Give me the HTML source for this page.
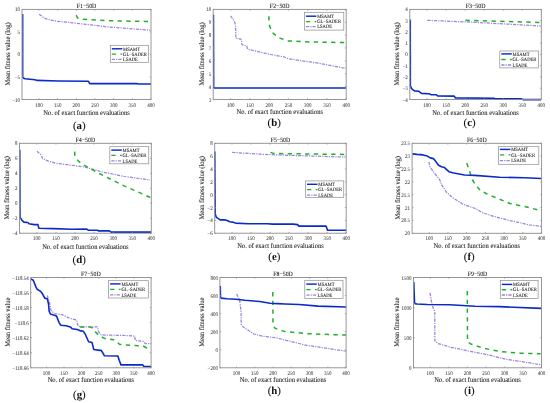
<!DOCTYPE html><html><head><meta charset="utf-8"><style>html,body{margin:0;padding:0;background:#fff;width:550px;height:403px;overflow:hidden}svg{display:block}</style></head><body>
<svg width="550" height="403" viewBox="0 0 550 403" font-family='"Liberation Serif", serif' fill="#222"><style>text{stroke:#222;stroke-width:0.08px;text-rendering:geometricPrecision}</style><defs><filter id="bl" x="-5%" y="-5%" width="110%" height="110%"><feGaussianBlur stdDeviation="0.3"/></filter></defs><g filter="url(#bl)"><rect width="550" height="403" fill="#fff"/><polyline points="39.10,14.20 43.70,17.60 45.40,18.60 50.30,20.00 56.80,21.30 67.70,22.20 80.80,23.80 93.90,25.20 105.40,26.70 125.50,28.30 150.30,30.20" fill="none" stroke="#9a82de" stroke-width="1.25" stroke-linejoin="round" stroke-dasharray="3.2 1.1 1.2 1.1"/>
<polyline points="76.20,15.10 77.50,18.00 81.90,19.20 91.20,19.80 108.90,20.80 145.60,21.40 151.00,21.50" fill="none" stroke="#22b02c" stroke-width="1.5" stroke-linejoin="round" stroke-dasharray="4.3 4.4"/>
<polyline points="22.80,14.00 22.80,77.80" fill="none" stroke="#0a2cc8" stroke-width="1.3" stroke-linejoin="round"/>
<polyline points="22.80,77.80 25.00,78.70 35.00,79.70 37.00,80.40 58.00,81.00 88.50,81.30 89.80,83.60 137.30,83.60 138.00,84.00 151.00,84.00" fill="none" stroke="#0a2cc8" stroke-width="1.6" stroke-linejoin="round"/>
<rect x="22" y="9.4" width="129" height="90.1" fill="none" stroke="#8c8c8c" stroke-width="0.9"/>
<line x1="38.99" y1="99.5" x2="38.99" y2="98.2" stroke="#8c8c8c" stroke-width="0.7"/>
<line x1="38.99" y1="9.4" x2="38.99" y2="10.700000000000001" stroke="#8c8c8c" stroke-width="0.7"/>
<text transform="translate(38.99,106.60) scale(1,1.1)" text-anchor="middle" font-size="5" fill="#3c3c3c" style="stroke-width:0.04px;stroke:#3c3c3c">100</text>
<line x1="57.66" y1="99.5" x2="57.66" y2="98.2" stroke="#8c8c8c" stroke-width="0.7"/>
<line x1="57.66" y1="9.4" x2="57.66" y2="10.700000000000001" stroke="#8c8c8c" stroke-width="0.7"/>
<text transform="translate(57.66,106.60) scale(1,1.1)" text-anchor="middle" font-size="5" fill="#3c3c3c" style="stroke-width:0.04px;stroke:#3c3c3c">150</text>
<line x1="76.33" y1="99.5" x2="76.33" y2="98.2" stroke="#8c8c8c" stroke-width="0.7"/>
<line x1="76.33" y1="9.4" x2="76.33" y2="10.700000000000001" stroke="#8c8c8c" stroke-width="0.7"/>
<text transform="translate(76.33,106.60) scale(1,1.1)" text-anchor="middle" font-size="5" fill="#3c3c3c" style="stroke-width:0.04px;stroke:#3c3c3c">200</text>
<line x1="94.99" y1="99.5" x2="94.99" y2="98.2" stroke="#8c8c8c" stroke-width="0.7"/>
<line x1="94.99" y1="9.4" x2="94.99" y2="10.700000000000001" stroke="#8c8c8c" stroke-width="0.7"/>
<text transform="translate(94.99,106.60) scale(1,1.1)" text-anchor="middle" font-size="5" fill="#3c3c3c" style="stroke-width:0.04px;stroke:#3c3c3c">250</text>
<line x1="113.66" y1="99.5" x2="113.66" y2="98.2" stroke="#8c8c8c" stroke-width="0.7"/>
<line x1="113.66" y1="9.4" x2="113.66" y2="10.700000000000001" stroke="#8c8c8c" stroke-width="0.7"/>
<text transform="translate(113.66,106.60) scale(1,1.1)" text-anchor="middle" font-size="5" fill="#3c3c3c" style="stroke-width:0.04px;stroke:#3c3c3c">300</text>
<line x1="132.33" y1="99.5" x2="132.33" y2="98.2" stroke="#8c8c8c" stroke-width="0.7"/>
<line x1="132.33" y1="9.4" x2="132.33" y2="10.700000000000001" stroke="#8c8c8c" stroke-width="0.7"/>
<text transform="translate(132.33,106.60) scale(1,1.1)" text-anchor="middle" font-size="5" fill="#3c3c3c" style="stroke-width:0.04px;stroke:#3c3c3c">350</text>
<line x1="151.00" y1="99.5" x2="151.00" y2="98.2" stroke="#8c8c8c" stroke-width="0.7"/>
<line x1="151.00" y1="9.4" x2="151.00" y2="10.700000000000001" stroke="#8c8c8c" stroke-width="0.7"/>
<text transform="translate(151.00,106.60) scale(1,1.1)" text-anchor="middle" font-size="5" fill="#3c3c3c" style="stroke-width:0.04px;stroke:#3c3c3c">400</text>
<line x1="22" y1="9.40" x2="23.3" y2="9.40" stroke="#8c8c8c" stroke-width="0.7"/>
<line x1="151" y1="9.40" x2="149.7" y2="9.40" stroke="#8c8c8c" stroke-width="0.7"/>
<text transform="translate(20.00,11.40) scale(1,1.1)" text-anchor="end" font-size="5" fill="#3c3c3c" style="stroke-width:0.04px;stroke:#3c3c3c">10</text>
<line x1="22" y1="31.93" x2="23.3" y2="31.93" stroke="#8c8c8c" stroke-width="0.7"/>
<line x1="151" y1="31.93" x2="149.7" y2="31.93" stroke="#8c8c8c" stroke-width="0.7"/>
<text transform="translate(20.00,33.93) scale(1,1.1)" text-anchor="end" font-size="5" fill="#3c3c3c" style="stroke-width:0.04px;stroke:#3c3c3c">5</text>
<line x1="22" y1="54.45" x2="23.3" y2="54.45" stroke="#8c8c8c" stroke-width="0.7"/>
<line x1="151" y1="54.45" x2="149.7" y2="54.45" stroke="#8c8c8c" stroke-width="0.7"/>
<text transform="translate(20.00,56.45) scale(1,1.1)" text-anchor="end" font-size="5" fill="#3c3c3c" style="stroke-width:0.04px;stroke:#3c3c3c">0</text>
<line x1="22" y1="76.97" x2="23.3" y2="76.97" stroke="#8c8c8c" stroke-width="0.7"/>
<line x1="151" y1="76.97" x2="149.7" y2="76.97" stroke="#8c8c8c" stroke-width="0.7"/>
<text transform="translate(20.00,78.97) scale(1,1.1)" text-anchor="end" font-size="5" fill="#3c3c3c" style="stroke-width:0.04px;stroke:#3c3c3c">−5</text>
<line x1="22" y1="99.50" x2="23.3" y2="99.50" stroke="#8c8c8c" stroke-width="0.7"/>
<line x1="151" y1="99.50" x2="149.7" y2="99.50" stroke="#8c8c8c" stroke-width="0.7"/>
<text transform="translate(20.00,101.50) scale(1,1.1)" text-anchor="end" font-size="5" fill="#3c3c3c" style="stroke-width:0.04px;stroke:#3c3c3c">−10</text>
<text transform="translate(86.50,8.20) scale(1,1.1)" text-anchor="middle" font-size="5.9">F1−50D</text>
<text transform="translate(86.50,114.60) scale(1,1.1)" text-anchor="middle" font-size="6.5">No. of exact function evaluations</text>
<text transform="translate(9.70,53.95) rotate(-90) scale(1,1.1)" text-anchor="middle" font-size="6.5">Mean fitness value (log)</text>
<text x="79.3" y="129.4" text-anchor="middle" font-size="10.8" fill="#111" style="stroke-width:0.1px;stroke:#111">(<tspan font-weight="bold" style="stroke-width:0">a</tspan>)</text>
<rect x="110.3" y="45.3" width="38.3" height="17.0" fill="#fff" stroke="#8c8c8c" stroke-width="0.7"/>
<polyline points="111.80,48.80 122.30,48.80" fill="none" stroke="#0a2cc8" stroke-width="1.45" stroke-linejoin="round"/>
<text transform="translate(123.10,50.50) scale(1,1.1)" text-anchor="start" font-size="4.6">MSAMT</text>
<polyline points="111.80,54.10 122.30,54.10" fill="none" stroke="#22b02c" stroke-width="1.35" stroke-linejoin="round" stroke-dasharray="4.3 4.4"/>
<text transform="translate(123.10,55.80) scale(1,1.1)" text-anchor="start" font-size="4.6">GL−SADER</text>
<polyline points="111.80,59.40 122.30,59.40" fill="none" stroke="#9a82de" stroke-width="1.3" stroke-linejoin="round" stroke-dasharray="3.2 1.1 1.2 1.1"/>
<text transform="translate(123.10,61.10) scale(1,1.1)" text-anchor="start" font-size="4.6">LSADE</text>
<polyline points="230.60,15.90 234.50,21.40 235.50,25.20 235.90,38.20 241.40,39.30 241.90,44.70 246.80,46.10 247.50,49.10 253.40,50.50 261.00,52.40 270.80,54.50 284.50,57.00 288.20,58.70 319.10,63.30 343.80,68.00 346.00,68.30" fill="none" stroke="#9a82de" stroke-width="1.25" stroke-linejoin="round" stroke-dasharray="3.2 1.1 1.2 1.1"/>
<polyline points="268.90,16.20 268.90,23.90 272.00,32.40 278.90,37.80 288.20,40.90 311.40,42.00 342.30,42.50 346.00,42.50" fill="none" stroke="#22b02c" stroke-width="1.5" stroke-linejoin="round" stroke-dasharray="4.3 4.4"/>
<polyline points="213.60,14.80 213.80,88.00" fill="none" stroke="#0a2cc8" stroke-width="1.3" stroke-linejoin="round"/>
<polyline points="213.80,88.00 346.00,88.00" fill="none" stroke="#0a2cc8" stroke-width="1.6" stroke-linejoin="round"/>
<rect x="213.2" y="9.4" width="133.0" height="90.1" fill="none" stroke="#8c8c8c" stroke-width="0.9"/>
<line x1="230.72" y1="99.5" x2="230.72" y2="98.2" stroke="#8c8c8c" stroke-width="0.7"/>
<line x1="230.72" y1="9.4" x2="230.72" y2="10.700000000000001" stroke="#8c8c8c" stroke-width="0.7"/>
<text transform="translate(230.72,106.60) scale(1,1.1)" text-anchor="middle" font-size="5" fill="#3c3c3c" style="stroke-width:0.04px;stroke:#3c3c3c">100</text>
<line x1="249.96" y1="99.5" x2="249.96" y2="98.2" stroke="#8c8c8c" stroke-width="0.7"/>
<line x1="249.96" y1="9.4" x2="249.96" y2="10.700000000000001" stroke="#8c8c8c" stroke-width="0.7"/>
<text transform="translate(249.96,106.60) scale(1,1.1)" text-anchor="middle" font-size="5" fill="#3c3c3c" style="stroke-width:0.04px;stroke:#3c3c3c">150</text>
<line x1="269.21" y1="99.5" x2="269.21" y2="98.2" stroke="#8c8c8c" stroke-width="0.7"/>
<line x1="269.21" y1="9.4" x2="269.21" y2="10.700000000000001" stroke="#8c8c8c" stroke-width="0.7"/>
<text transform="translate(269.21,106.60) scale(1,1.1)" text-anchor="middle" font-size="5" fill="#3c3c3c" style="stroke-width:0.04px;stroke:#3c3c3c">200</text>
<line x1="288.46" y1="99.5" x2="288.46" y2="98.2" stroke="#8c8c8c" stroke-width="0.7"/>
<line x1="288.46" y1="9.4" x2="288.46" y2="10.700000000000001" stroke="#8c8c8c" stroke-width="0.7"/>
<text transform="translate(288.46,106.60) scale(1,1.1)" text-anchor="middle" font-size="5" fill="#3c3c3c" style="stroke-width:0.04px;stroke:#3c3c3c">250</text>
<line x1="307.71" y1="99.5" x2="307.71" y2="98.2" stroke="#8c8c8c" stroke-width="0.7"/>
<line x1="307.71" y1="9.4" x2="307.71" y2="10.700000000000001" stroke="#8c8c8c" stroke-width="0.7"/>
<text transform="translate(307.71,106.60) scale(1,1.1)" text-anchor="middle" font-size="5" fill="#3c3c3c" style="stroke-width:0.04px;stroke:#3c3c3c">300</text>
<line x1="326.95" y1="99.5" x2="326.95" y2="98.2" stroke="#8c8c8c" stroke-width="0.7"/>
<line x1="326.95" y1="9.4" x2="326.95" y2="10.700000000000001" stroke="#8c8c8c" stroke-width="0.7"/>
<text transform="translate(326.95,106.60) scale(1,1.1)" text-anchor="middle" font-size="5" fill="#3c3c3c" style="stroke-width:0.04px;stroke:#3c3c3c">350</text>
<line x1="346.20" y1="99.5" x2="346.20" y2="98.2" stroke="#8c8c8c" stroke-width="0.7"/>
<line x1="346.20" y1="9.4" x2="346.20" y2="10.700000000000001" stroke="#8c8c8c" stroke-width="0.7"/>
<text transform="translate(346.20,106.60) scale(1,1.1)" text-anchor="middle" font-size="5" fill="#3c3c3c" style="stroke-width:0.04px;stroke:#3c3c3c">400</text>
<line x1="213.2" y1="99.50" x2="214.5" y2="99.50" stroke="#8c8c8c" stroke-width="0.7"/>
<line x1="346.2" y1="99.50" x2="344.9" y2="99.50" stroke="#8c8c8c" stroke-width="0.7"/>
<text transform="translate(211.20,101.50) scale(1,1.1)" text-anchor="end" font-size="5" fill="#3c3c3c" style="stroke-width:0.04px;stroke:#3c3c3c">3</text>
<line x1="213.2" y1="86.63" x2="214.5" y2="86.63" stroke="#8c8c8c" stroke-width="0.7"/>
<line x1="346.2" y1="86.63" x2="344.9" y2="86.63" stroke="#8c8c8c" stroke-width="0.7"/>
<text transform="translate(211.20,88.63) scale(1,1.1)" text-anchor="end" font-size="5" fill="#3c3c3c" style="stroke-width:0.04px;stroke:#3c3c3c">4</text>
<line x1="213.2" y1="73.76" x2="214.5" y2="73.76" stroke="#8c8c8c" stroke-width="0.7"/>
<line x1="346.2" y1="73.76" x2="344.9" y2="73.76" stroke="#8c8c8c" stroke-width="0.7"/>
<text transform="translate(211.20,75.76) scale(1,1.1)" text-anchor="end" font-size="5" fill="#3c3c3c" style="stroke-width:0.04px;stroke:#3c3c3c">5</text>
<line x1="213.2" y1="60.89" x2="214.5" y2="60.89" stroke="#8c8c8c" stroke-width="0.7"/>
<line x1="346.2" y1="60.89" x2="344.9" y2="60.89" stroke="#8c8c8c" stroke-width="0.7"/>
<text transform="translate(211.20,62.89) scale(1,1.1)" text-anchor="end" font-size="5" fill="#3c3c3c" style="stroke-width:0.04px;stroke:#3c3c3c">6</text>
<line x1="213.2" y1="48.01" x2="214.5" y2="48.01" stroke="#8c8c8c" stroke-width="0.7"/>
<line x1="346.2" y1="48.01" x2="344.9" y2="48.01" stroke="#8c8c8c" stroke-width="0.7"/>
<text transform="translate(211.20,50.01) scale(1,1.1)" text-anchor="end" font-size="5" fill="#3c3c3c" style="stroke-width:0.04px;stroke:#3c3c3c">7</text>
<line x1="213.2" y1="35.14" x2="214.5" y2="35.14" stroke="#8c8c8c" stroke-width="0.7"/>
<line x1="346.2" y1="35.14" x2="344.9" y2="35.14" stroke="#8c8c8c" stroke-width="0.7"/>
<text transform="translate(211.20,37.14) scale(1,1.1)" text-anchor="end" font-size="5" fill="#3c3c3c" style="stroke-width:0.04px;stroke:#3c3c3c">8</text>
<line x1="213.2" y1="22.27" x2="214.5" y2="22.27" stroke="#8c8c8c" stroke-width="0.7"/>
<line x1="346.2" y1="22.27" x2="344.9" y2="22.27" stroke="#8c8c8c" stroke-width="0.7"/>
<text transform="translate(211.20,24.27) scale(1,1.1)" text-anchor="end" font-size="5" fill="#3c3c3c" style="stroke-width:0.04px;stroke:#3c3c3c">9</text>
<line x1="213.2" y1="9.40" x2="214.5" y2="9.40" stroke="#8c8c8c" stroke-width="0.7"/>
<line x1="346.2" y1="9.40" x2="344.9" y2="9.40" stroke="#8c8c8c" stroke-width="0.7"/>
<text transform="translate(211.20,11.40) scale(1,1.1)" text-anchor="end" font-size="5" fill="#3c3c3c" style="stroke-width:0.04px;stroke:#3c3c3c">10</text>
<text transform="translate(279.70,8.20) scale(1,1.1)" text-anchor="middle" font-size="5.9">F2−50D</text>
<text transform="translate(279.70,114.20) scale(1,1.1)" text-anchor="middle" font-size="6.5">No. of exact function evaluations</text>
<text transform="translate(203.90,53.95) rotate(-90) scale(1,1.1)" text-anchor="middle" font-size="6.5">Mean fitness value (log)</text>
<text x="274.2" y="126.1" text-anchor="middle" font-size="10.8" fill="#111" style="stroke-width:0.1px;stroke:#111">(<tspan font-weight="bold" style="stroke-width:0">b</tspan>)</text>
<rect x="304.4" y="12.3" width="39.400000000000034" height="17.8" fill="#fff" stroke="#8c8c8c" stroke-width="0.7"/>
<polyline points="305.90,16.20 316.40,16.20" fill="none" stroke="#0a2cc8" stroke-width="1.45" stroke-linejoin="round"/>
<text transform="translate(317.20,17.90) scale(1,1.1)" text-anchor="start" font-size="4.6">MSAMT</text>
<polyline points="305.90,21.60 316.40,21.60" fill="none" stroke="#22b02c" stroke-width="1.35" stroke-linejoin="round" stroke-dasharray="4.3 4.4"/>
<text transform="translate(317.20,23.30) scale(1,1.1)" text-anchor="start" font-size="4.6">GL−SADER</text>
<polyline points="305.90,26.70 316.40,26.70" fill="none" stroke="#9a82de" stroke-width="1.3" stroke-linejoin="round" stroke-dasharray="3.2 1.1 1.2 1.1"/>
<text transform="translate(317.20,28.40) scale(1,1.1)" text-anchor="start" font-size="4.6">LSADE</text>
<polyline points="427.30,20.30 475.00,22.30 541.00,26.00" fill="none" stroke="#9a82de" stroke-width="1.25" stroke-linejoin="round" stroke-dasharray="3.2 1.1 1.2 1.1"/>
<polyline points="465.50,20.30 474.80,20.60 537.70,22.40 541.00,22.50" fill="none" stroke="#22b02c" stroke-width="1.5" stroke-linejoin="round" stroke-dasharray="4.3 4.4"/>
<polyline points="410.40,19.60 410.50,86.20" fill="none" stroke="#0a2cc8" stroke-width="1.3" stroke-linejoin="round"/>
<polyline points="410.50,86.20 411.80,88.90 414.50,90.90 418.60,91.20 421.40,93.40 428.90,93.70 430.90,94.60 436.40,94.70 437.70,96.00 454.10,96.10 455.50,97.90 494.00,98.20 495.50,98.90 521.60,98.90 523.10,99.60 541.00,99.60" fill="none" stroke="#0a2cc8" stroke-width="1.6" stroke-linejoin="round"/>
<rect x="409.8" y="9.4" width="131.49999999999994" height="90.1" fill="none" stroke="#8c8c8c" stroke-width="0.9"/>
<line x1="427.12" y1="99.5" x2="427.12" y2="98.2" stroke="#8c8c8c" stroke-width="0.7"/>
<line x1="427.12" y1="9.4" x2="427.12" y2="10.700000000000001" stroke="#8c8c8c" stroke-width="0.7"/>
<text transform="translate(427.12,106.60) scale(1,1.1)" text-anchor="middle" font-size="5" fill="#3c3c3c" style="stroke-width:0.04px;stroke:#3c3c3c">100</text>
<line x1="446.15" y1="99.5" x2="446.15" y2="98.2" stroke="#8c8c8c" stroke-width="0.7"/>
<line x1="446.15" y1="9.4" x2="446.15" y2="10.700000000000001" stroke="#8c8c8c" stroke-width="0.7"/>
<text transform="translate(446.15,106.60) scale(1,1.1)" text-anchor="middle" font-size="5" fill="#3c3c3c" style="stroke-width:0.04px;stroke:#3c3c3c">150</text>
<line x1="465.18" y1="99.5" x2="465.18" y2="98.2" stroke="#8c8c8c" stroke-width="0.7"/>
<line x1="465.18" y1="9.4" x2="465.18" y2="10.700000000000001" stroke="#8c8c8c" stroke-width="0.7"/>
<text transform="translate(465.18,106.60) scale(1,1.1)" text-anchor="middle" font-size="5" fill="#3c3c3c" style="stroke-width:0.04px;stroke:#3c3c3c">200</text>
<line x1="484.21" y1="99.5" x2="484.21" y2="98.2" stroke="#8c8c8c" stroke-width="0.7"/>
<line x1="484.21" y1="9.4" x2="484.21" y2="10.700000000000001" stroke="#8c8c8c" stroke-width="0.7"/>
<text transform="translate(484.21,106.60) scale(1,1.1)" text-anchor="middle" font-size="5" fill="#3c3c3c" style="stroke-width:0.04px;stroke:#3c3c3c">250</text>
<line x1="503.24" y1="99.5" x2="503.24" y2="98.2" stroke="#8c8c8c" stroke-width="0.7"/>
<line x1="503.24" y1="9.4" x2="503.24" y2="10.700000000000001" stroke="#8c8c8c" stroke-width="0.7"/>
<text transform="translate(503.24,106.60) scale(1,1.1)" text-anchor="middle" font-size="5" fill="#3c3c3c" style="stroke-width:0.04px;stroke:#3c3c3c">300</text>
<line x1="522.27" y1="99.5" x2="522.27" y2="98.2" stroke="#8c8c8c" stroke-width="0.7"/>
<line x1="522.27" y1="9.4" x2="522.27" y2="10.700000000000001" stroke="#8c8c8c" stroke-width="0.7"/>
<text transform="translate(522.27,106.60) scale(1,1.1)" text-anchor="middle" font-size="5" fill="#3c3c3c" style="stroke-width:0.04px;stroke:#3c3c3c">350</text>
<line x1="541.30" y1="99.5" x2="541.30" y2="98.2" stroke="#8c8c8c" stroke-width="0.7"/>
<line x1="541.30" y1="9.4" x2="541.30" y2="10.700000000000001" stroke="#8c8c8c" stroke-width="0.7"/>
<text transform="translate(541.30,106.60) scale(1,1.1)" text-anchor="middle" font-size="5" fill="#3c3c3c" style="stroke-width:0.04px;stroke:#3c3c3c">400</text>
<line x1="409.8" y1="99.50" x2="411.1" y2="99.50" stroke="#8c8c8c" stroke-width="0.7"/>
<line x1="541.3" y1="99.50" x2="540.0" y2="99.50" stroke="#8c8c8c" stroke-width="0.7"/>
<text transform="translate(407.80,101.50) scale(1,1.1)" text-anchor="end" font-size="5" fill="#3c3c3c" style="stroke-width:0.04px;stroke:#3c3c3c">−4</text>
<line x1="409.8" y1="88.24" x2="411.1" y2="88.24" stroke="#8c8c8c" stroke-width="0.7"/>
<line x1="541.3" y1="88.24" x2="540.0" y2="88.24" stroke="#8c8c8c" stroke-width="0.7"/>
<text transform="translate(407.80,90.24) scale(1,1.1)" text-anchor="end" font-size="5" fill="#3c3c3c" style="stroke-width:0.04px;stroke:#3c3c3c">−3</text>
<line x1="409.8" y1="76.97" x2="411.1" y2="76.97" stroke="#8c8c8c" stroke-width="0.7"/>
<line x1="541.3" y1="76.97" x2="540.0" y2="76.97" stroke="#8c8c8c" stroke-width="0.7"/>
<text transform="translate(407.80,78.97) scale(1,1.1)" text-anchor="end" font-size="5" fill="#3c3c3c" style="stroke-width:0.04px;stroke:#3c3c3c">−2</text>
<line x1="409.8" y1="65.71" x2="411.1" y2="65.71" stroke="#8c8c8c" stroke-width="0.7"/>
<line x1="541.3" y1="65.71" x2="540.0" y2="65.71" stroke="#8c8c8c" stroke-width="0.7"/>
<text transform="translate(407.80,67.71) scale(1,1.1)" text-anchor="end" font-size="5" fill="#3c3c3c" style="stroke-width:0.04px;stroke:#3c3c3c">−1</text>
<line x1="409.8" y1="54.45" x2="411.1" y2="54.45" stroke="#8c8c8c" stroke-width="0.7"/>
<line x1="541.3" y1="54.45" x2="540.0" y2="54.45" stroke="#8c8c8c" stroke-width="0.7"/>
<text transform="translate(407.80,56.45) scale(1,1.1)" text-anchor="end" font-size="5" fill="#3c3c3c" style="stroke-width:0.04px;stroke:#3c3c3c">0</text>
<line x1="409.8" y1="43.19" x2="411.1" y2="43.19" stroke="#8c8c8c" stroke-width="0.7"/>
<line x1="541.3" y1="43.19" x2="540.0" y2="43.19" stroke="#8c8c8c" stroke-width="0.7"/>
<text transform="translate(407.80,45.19) scale(1,1.1)" text-anchor="end" font-size="5" fill="#3c3c3c" style="stroke-width:0.04px;stroke:#3c3c3c">1</text>
<line x1="409.8" y1="31.93" x2="411.1" y2="31.93" stroke="#8c8c8c" stroke-width="0.7"/>
<line x1="541.3" y1="31.93" x2="540.0" y2="31.93" stroke="#8c8c8c" stroke-width="0.7"/>
<text transform="translate(407.80,33.93) scale(1,1.1)" text-anchor="end" font-size="5" fill="#3c3c3c" style="stroke-width:0.04px;stroke:#3c3c3c">2</text>
<line x1="409.8" y1="20.66" x2="411.1" y2="20.66" stroke="#8c8c8c" stroke-width="0.7"/>
<line x1="541.3" y1="20.66" x2="540.0" y2="20.66" stroke="#8c8c8c" stroke-width="0.7"/>
<text transform="translate(407.80,22.66) scale(1,1.1)" text-anchor="end" font-size="5" fill="#3c3c3c" style="stroke-width:0.04px;stroke:#3c3c3c">3</text>
<line x1="409.8" y1="9.40" x2="411.1" y2="9.40" stroke="#8c8c8c" stroke-width="0.7"/>
<line x1="541.3" y1="9.40" x2="540.0" y2="9.40" stroke="#8c8c8c" stroke-width="0.7"/>
<text transform="translate(407.80,11.40) scale(1,1.1)" text-anchor="end" font-size="5" fill="#3c3c3c" style="stroke-width:0.04px;stroke:#3c3c3c">4</text>
<text transform="translate(475.55,8.20) scale(1,1.1)" text-anchor="middle" font-size="5.9">F3−50D</text>
<text transform="translate(475.55,114.70) scale(1,1.1)" text-anchor="middle" font-size="6.5">No. of exact function evaluations</text>
<text transform="translate(399.40,53.95) rotate(-90) scale(1,1.1)" text-anchor="middle" font-size="6.5">Mean fitness value (log)</text>
<text x="469.6" y="125.5" text-anchor="middle" font-size="10.8" fill="#111" style="stroke-width:0.1px;stroke:#111">(<tspan font-weight="bold" style="stroke-width:0">c</tspan>)</text>
<rect x="499.8" y="51" width="38.69999999999999" height="16.900000000000006" fill="#fff" stroke="#8c8c8c" stroke-width="0.7"/>
<polyline points="501.30,53.90 511.80,53.90" fill="none" stroke="#0a2cc8" stroke-width="1.45" stroke-linejoin="round"/>
<text transform="translate(512.60,55.60) scale(1,1.1)" text-anchor="start" font-size="4.6">MSAMT</text>
<polyline points="501.30,59.50 511.80,59.50" fill="none" stroke="#22b02c" stroke-width="1.35" stroke-linejoin="round" stroke-dasharray="4.3 4.4"/>
<text transform="translate(512.60,61.20) scale(1,1.1)" text-anchor="start" font-size="4.6">GL−SADER</text>
<polyline points="501.30,65.00 511.80,65.00" fill="none" stroke="#9a82de" stroke-width="1.3" stroke-linejoin="round" stroke-dasharray="3.2 1.1 1.2 1.1"/>
<text transform="translate(512.60,66.70) scale(1,1.1)" text-anchor="start" font-size="4.6">LSADE</text>
<polyline points="37.00,151.20 41.10,154.90 42.60,158.60 47.80,160.90 55.20,163.10 67.10,164.60 85.00,167.10 102.30,172.00 124.60,176.50 150.00,179.90" fill="none" stroke="#9a82de" stroke-width="1.25" stroke-linejoin="round" stroke-dasharray="3.2 1.1 1.2 1.1"/>
<polyline points="74.60,151.60 74.90,155.60 76.80,159.40 81.50,163.80 99.30,173.50 124.60,186.10 150.00,197.30 151.00,197.60" fill="none" stroke="#22b02c" stroke-width="1.5" stroke-linejoin="round" stroke-dasharray="4.3 4.4"/>
<polyline points="19.90,149.70 20.10,217.40" fill="none" stroke="#0a2cc8" stroke-width="1.3" stroke-linejoin="round"/>
<polyline points="20.10,217.40 22.00,220.30 23.90,222.10 27.70,222.50 29.00,223.70 34.10,224.60 37.90,224.60 38.90,228.20 53.20,228.60 72.30,229.20 86.80,229.10 88.20,230.20 97.70,230.20 98.40,230.90 109.30,230.90 111.10,232.10 151.00,232.10" fill="none" stroke="#0a2cc8" stroke-width="1.6" stroke-linejoin="round"/>
<rect x="19.5" y="143.3" width="131.8" height="89.89999999999998" fill="none" stroke="#8c8c8c" stroke-width="0.9"/>
<line x1="36.86" y1="233.2" x2="36.86" y2="231.89999999999998" stroke="#8c8c8c" stroke-width="0.7"/>
<line x1="36.86" y1="143.3" x2="36.86" y2="144.60000000000002" stroke="#8c8c8c" stroke-width="0.7"/>
<text transform="translate(36.86,240.30) scale(1,1.1)" text-anchor="middle" font-size="5" fill="#3c3c3c" style="stroke-width:0.04px;stroke:#3c3c3c">100</text>
<line x1="55.93" y1="233.2" x2="55.93" y2="231.89999999999998" stroke="#8c8c8c" stroke-width="0.7"/>
<line x1="55.93" y1="143.3" x2="55.93" y2="144.60000000000002" stroke="#8c8c8c" stroke-width="0.7"/>
<text transform="translate(55.93,240.30) scale(1,1.1)" text-anchor="middle" font-size="5" fill="#3c3c3c" style="stroke-width:0.04px;stroke:#3c3c3c">150</text>
<line x1="75.00" y1="233.2" x2="75.00" y2="231.89999999999998" stroke="#8c8c8c" stroke-width="0.7"/>
<line x1="75.00" y1="143.3" x2="75.00" y2="144.60000000000002" stroke="#8c8c8c" stroke-width="0.7"/>
<text transform="translate(75.00,240.30) scale(1,1.1)" text-anchor="middle" font-size="5" fill="#3c3c3c" style="stroke-width:0.04px;stroke:#3c3c3c">200</text>
<line x1="94.08" y1="233.2" x2="94.08" y2="231.89999999999998" stroke="#8c8c8c" stroke-width="0.7"/>
<line x1="94.08" y1="143.3" x2="94.08" y2="144.60000000000002" stroke="#8c8c8c" stroke-width="0.7"/>
<text transform="translate(94.08,240.30) scale(1,1.1)" text-anchor="middle" font-size="5" fill="#3c3c3c" style="stroke-width:0.04px;stroke:#3c3c3c">250</text>
<line x1="113.15" y1="233.2" x2="113.15" y2="231.89999999999998" stroke="#8c8c8c" stroke-width="0.7"/>
<line x1="113.15" y1="143.3" x2="113.15" y2="144.60000000000002" stroke="#8c8c8c" stroke-width="0.7"/>
<text transform="translate(113.15,240.30) scale(1,1.1)" text-anchor="middle" font-size="5" fill="#3c3c3c" style="stroke-width:0.04px;stroke:#3c3c3c">300</text>
<line x1="132.23" y1="233.2" x2="132.23" y2="231.89999999999998" stroke="#8c8c8c" stroke-width="0.7"/>
<line x1="132.23" y1="143.3" x2="132.23" y2="144.60000000000002" stroke="#8c8c8c" stroke-width="0.7"/>
<text transform="translate(132.23,240.30) scale(1,1.1)" text-anchor="middle" font-size="5" fill="#3c3c3c" style="stroke-width:0.04px;stroke:#3c3c3c">350</text>
<line x1="151.30" y1="233.2" x2="151.30" y2="231.89999999999998" stroke="#8c8c8c" stroke-width="0.7"/>
<line x1="151.30" y1="143.3" x2="151.30" y2="144.60000000000002" stroke="#8c8c8c" stroke-width="0.7"/>
<text transform="translate(151.30,240.30) scale(1,1.1)" text-anchor="middle" font-size="5" fill="#3c3c3c" style="stroke-width:0.04px;stroke:#3c3c3c">400</text>
<line x1="19.5" y1="233.20" x2="20.8" y2="233.20" stroke="#8c8c8c" stroke-width="0.7"/>
<line x1="151.3" y1="233.20" x2="150.0" y2="233.20" stroke="#8c8c8c" stroke-width="0.7"/>
<text transform="translate(17.50,235.20) scale(1,1.1)" text-anchor="end" font-size="5" fill="#3c3c3c" style="stroke-width:0.04px;stroke:#3c3c3c">−4</text>
<line x1="19.5" y1="218.22" x2="20.8" y2="218.22" stroke="#8c8c8c" stroke-width="0.7"/>
<line x1="151.3" y1="218.22" x2="150.0" y2="218.22" stroke="#8c8c8c" stroke-width="0.7"/>
<text transform="translate(17.50,220.22) scale(1,1.1)" text-anchor="end" font-size="5" fill="#3c3c3c" style="stroke-width:0.04px;stroke:#3c3c3c">−2</text>
<line x1="19.5" y1="203.23" x2="20.8" y2="203.23" stroke="#8c8c8c" stroke-width="0.7"/>
<line x1="151.3" y1="203.23" x2="150.0" y2="203.23" stroke="#8c8c8c" stroke-width="0.7"/>
<text transform="translate(17.50,205.23) scale(1,1.1)" text-anchor="end" font-size="5" fill="#3c3c3c" style="stroke-width:0.04px;stroke:#3c3c3c">0</text>
<line x1="19.5" y1="188.25" x2="20.8" y2="188.25" stroke="#8c8c8c" stroke-width="0.7"/>
<line x1="151.3" y1="188.25" x2="150.0" y2="188.25" stroke="#8c8c8c" stroke-width="0.7"/>
<text transform="translate(17.50,190.25) scale(1,1.1)" text-anchor="end" font-size="5" fill="#3c3c3c" style="stroke-width:0.04px;stroke:#3c3c3c">2</text>
<line x1="19.5" y1="173.27" x2="20.8" y2="173.27" stroke="#8c8c8c" stroke-width="0.7"/>
<line x1="151.3" y1="173.27" x2="150.0" y2="173.27" stroke="#8c8c8c" stroke-width="0.7"/>
<text transform="translate(17.50,175.27) scale(1,1.1)" text-anchor="end" font-size="5" fill="#3c3c3c" style="stroke-width:0.04px;stroke:#3c3c3c">4</text>
<line x1="19.5" y1="158.28" x2="20.8" y2="158.28" stroke="#8c8c8c" stroke-width="0.7"/>
<line x1="151.3" y1="158.28" x2="150.0" y2="158.28" stroke="#8c8c8c" stroke-width="0.7"/>
<text transform="translate(17.50,160.28) scale(1,1.1)" text-anchor="end" font-size="5" fill="#3c3c3c" style="stroke-width:0.04px;stroke:#3c3c3c">6</text>
<line x1="19.5" y1="143.30" x2="20.8" y2="143.30" stroke="#8c8c8c" stroke-width="0.7"/>
<line x1="151.3" y1="143.30" x2="150.0" y2="143.30" stroke="#8c8c8c" stroke-width="0.7"/>
<text transform="translate(17.50,145.30) scale(1,1.1)" text-anchor="end" font-size="5" fill="#3c3c3c" style="stroke-width:0.04px;stroke:#3c3c3c">8</text>
<text transform="translate(85.40,142.10) scale(1,1.1)" text-anchor="middle" font-size="5.9">F4−50D</text>
<text transform="translate(85.40,248.50) scale(1,1.1)" text-anchor="middle" font-size="6.5">No. of exact function evaluations</text>
<text transform="translate(9.40,187.75) rotate(-90) scale(1,1.1)" text-anchor="middle" font-size="6.5">Mean fitness value (log)</text>
<text x="79.2" y="263.1" text-anchor="middle" font-size="10.8" fill="#111" style="stroke-width:0.1px;stroke:#111">(<tspan font-weight="bold" style="stroke-width:0">d</tspan>)</text>
<rect x="109.8" y="146.7" width="38.95" height="17.100000000000023" fill="#fff" stroke="#8c8c8c" stroke-width="0.7"/>
<polyline points="111.30,150.10 121.80,150.10" fill="none" stroke="#0a2cc8" stroke-width="1.45" stroke-linejoin="round"/>
<text transform="translate(122.60,151.80) scale(1,1.1)" text-anchor="start" font-size="4.6">MSAMT</text>
<polyline points="111.30,155.30 121.80,155.30" fill="none" stroke="#22b02c" stroke-width="1.35" stroke-linejoin="round" stroke-dasharray="4.3 4.4"/>
<text transform="translate(122.60,157.00) scale(1,1.1)" text-anchor="start" font-size="4.6">GL−SADER</text>
<polyline points="111.30,160.80 121.80,160.80" fill="none" stroke="#9a82de" stroke-width="1.3" stroke-linejoin="round" stroke-dasharray="3.2 1.1 1.2 1.1"/>
<text transform="translate(122.60,162.50) scale(1,1.1)" text-anchor="start" font-size="4.6">LSADE</text>
<polyline points="232.20,152.40 267.50,154.60 280.00,155.00 345.00,157.10" fill="none" stroke="#9a82de" stroke-width="1.25" stroke-linejoin="round" stroke-dasharray="3.2 1.1 1.2 1.1"/>
<polyline points="270.50,152.40 273.50,153.40 280.00,153.60 343.50,154.40 346.00,154.40" fill="none" stroke="#22b02c" stroke-width="1.5" stroke-linejoin="round" stroke-dasharray="4.3 4.4"/>
<polyline points="214.90,151.60 215.30,214.20" fill="none" stroke="#0a2cc8" stroke-width="1.3" stroke-linejoin="round"/>
<polyline points="215.30,214.20 216.40,217.40 220.20,219.90 225.30,219.90 227.20,220.50 229.70,221.80 232.30,222.10 235.50,223.10 248.20,223.70 267.30,223.70 272.40,224.10 293.40,224.10 297.50,224.60 298.90,226.10 326.10,226.10 327.50,230.20 346.00,230.20" fill="none" stroke="#0a2cc8" stroke-width="1.6" stroke-linejoin="round"/>
<rect x="214.7" y="143.3" width="131.5" height="89.89999999999998" fill="none" stroke="#8c8c8c" stroke-width="0.9"/>
<line x1="232.02" y1="233.2" x2="232.02" y2="231.89999999999998" stroke="#8c8c8c" stroke-width="0.7"/>
<line x1="232.02" y1="143.3" x2="232.02" y2="144.60000000000002" stroke="#8c8c8c" stroke-width="0.7"/>
<text transform="translate(232.02,240.30) scale(1,1.1)" text-anchor="middle" font-size="5" fill="#3c3c3c" style="stroke-width:0.04px;stroke:#3c3c3c">100</text>
<line x1="251.05" y1="233.2" x2="251.05" y2="231.89999999999998" stroke="#8c8c8c" stroke-width="0.7"/>
<line x1="251.05" y1="143.3" x2="251.05" y2="144.60000000000002" stroke="#8c8c8c" stroke-width="0.7"/>
<text transform="translate(251.05,240.30) scale(1,1.1)" text-anchor="middle" font-size="5" fill="#3c3c3c" style="stroke-width:0.04px;stroke:#3c3c3c">150</text>
<line x1="270.08" y1="233.2" x2="270.08" y2="231.89999999999998" stroke="#8c8c8c" stroke-width="0.7"/>
<line x1="270.08" y1="143.3" x2="270.08" y2="144.60000000000002" stroke="#8c8c8c" stroke-width="0.7"/>
<text transform="translate(270.08,240.30) scale(1,1.1)" text-anchor="middle" font-size="5" fill="#3c3c3c" style="stroke-width:0.04px;stroke:#3c3c3c">200</text>
<line x1="289.11" y1="233.2" x2="289.11" y2="231.89999999999998" stroke="#8c8c8c" stroke-width="0.7"/>
<line x1="289.11" y1="143.3" x2="289.11" y2="144.60000000000002" stroke="#8c8c8c" stroke-width="0.7"/>
<text transform="translate(289.11,240.30) scale(1,1.1)" text-anchor="middle" font-size="5" fill="#3c3c3c" style="stroke-width:0.04px;stroke:#3c3c3c">250</text>
<line x1="308.14" y1="233.2" x2="308.14" y2="231.89999999999998" stroke="#8c8c8c" stroke-width="0.7"/>
<line x1="308.14" y1="143.3" x2="308.14" y2="144.60000000000002" stroke="#8c8c8c" stroke-width="0.7"/>
<text transform="translate(308.14,240.30) scale(1,1.1)" text-anchor="middle" font-size="5" fill="#3c3c3c" style="stroke-width:0.04px;stroke:#3c3c3c">300</text>
<line x1="327.17" y1="233.2" x2="327.17" y2="231.89999999999998" stroke="#8c8c8c" stroke-width="0.7"/>
<line x1="327.17" y1="143.3" x2="327.17" y2="144.60000000000002" stroke="#8c8c8c" stroke-width="0.7"/>
<text transform="translate(327.17,240.30) scale(1,1.1)" text-anchor="middle" font-size="5" fill="#3c3c3c" style="stroke-width:0.04px;stroke:#3c3c3c">350</text>
<line x1="346.20" y1="233.2" x2="346.20" y2="231.89999999999998" stroke="#8c8c8c" stroke-width="0.7"/>
<line x1="346.20" y1="143.3" x2="346.20" y2="144.60000000000002" stroke="#8c8c8c" stroke-width="0.7"/>
<text transform="translate(346.20,240.30) scale(1,1.1)" text-anchor="middle" font-size="5" fill="#3c3c3c" style="stroke-width:0.04px;stroke:#3c3c3c">400</text>
<line x1="214.7" y1="233.20" x2="216.0" y2="233.20" stroke="#8c8c8c" stroke-width="0.7"/>
<line x1="346.2" y1="233.20" x2="344.9" y2="233.20" stroke="#8c8c8c" stroke-width="0.7"/>
<text transform="translate(212.70,235.20) scale(1,1.1)" text-anchor="end" font-size="5" fill="#3c3c3c" style="stroke-width:0.04px;stroke:#3c3c3c">−6</text>
<line x1="214.7" y1="220.36" x2="216.0" y2="220.36" stroke="#8c8c8c" stroke-width="0.7"/>
<line x1="346.2" y1="220.36" x2="344.9" y2="220.36" stroke="#8c8c8c" stroke-width="0.7"/>
<text transform="translate(212.70,222.36) scale(1,1.1)" text-anchor="end" font-size="5" fill="#3c3c3c" style="stroke-width:0.04px;stroke:#3c3c3c">−4</text>
<line x1="214.7" y1="207.51" x2="216.0" y2="207.51" stroke="#8c8c8c" stroke-width="0.7"/>
<line x1="346.2" y1="207.51" x2="344.9" y2="207.51" stroke="#8c8c8c" stroke-width="0.7"/>
<text transform="translate(212.70,209.51) scale(1,1.1)" text-anchor="end" font-size="5" fill="#3c3c3c" style="stroke-width:0.04px;stroke:#3c3c3c">−2</text>
<line x1="214.7" y1="194.67" x2="216.0" y2="194.67" stroke="#8c8c8c" stroke-width="0.7"/>
<line x1="346.2" y1="194.67" x2="344.9" y2="194.67" stroke="#8c8c8c" stroke-width="0.7"/>
<text transform="translate(212.70,196.67) scale(1,1.1)" text-anchor="end" font-size="5" fill="#3c3c3c" style="stroke-width:0.04px;stroke:#3c3c3c">0</text>
<line x1="214.7" y1="181.83" x2="216.0" y2="181.83" stroke="#8c8c8c" stroke-width="0.7"/>
<line x1="346.2" y1="181.83" x2="344.9" y2="181.83" stroke="#8c8c8c" stroke-width="0.7"/>
<text transform="translate(212.70,183.83) scale(1,1.1)" text-anchor="end" font-size="5" fill="#3c3c3c" style="stroke-width:0.04px;stroke:#3c3c3c">2</text>
<line x1="214.7" y1="168.99" x2="216.0" y2="168.99" stroke="#8c8c8c" stroke-width="0.7"/>
<line x1="346.2" y1="168.99" x2="344.9" y2="168.99" stroke="#8c8c8c" stroke-width="0.7"/>
<text transform="translate(212.70,170.99) scale(1,1.1)" text-anchor="end" font-size="5" fill="#3c3c3c" style="stroke-width:0.04px;stroke:#3c3c3c">4</text>
<line x1="214.7" y1="156.14" x2="216.0" y2="156.14" stroke="#8c8c8c" stroke-width="0.7"/>
<line x1="346.2" y1="156.14" x2="344.9" y2="156.14" stroke="#8c8c8c" stroke-width="0.7"/>
<text transform="translate(212.70,158.14) scale(1,1.1)" text-anchor="end" font-size="5" fill="#3c3c3c" style="stroke-width:0.04px;stroke:#3c3c3c">6</text>
<line x1="214.7" y1="143.30" x2="216.0" y2="143.30" stroke="#8c8c8c" stroke-width="0.7"/>
<line x1="346.2" y1="143.30" x2="344.9" y2="143.30" stroke="#8c8c8c" stroke-width="0.7"/>
<text transform="translate(212.70,145.30) scale(1,1.1)" text-anchor="end" font-size="5" fill="#3c3c3c" style="stroke-width:0.04px;stroke:#3c3c3c">8</text>
<text transform="translate(280.45,142.10) scale(1,1.1)" text-anchor="middle" font-size="5.9">F5−50D</text>
<text transform="translate(280.45,248.00) scale(1,1.1)" text-anchor="middle" font-size="6.5">No. of exact function evaluations</text>
<text transform="translate(204.40,187.75) rotate(-90) scale(1,1.1)" text-anchor="middle" font-size="6.5">Mean fitness value (log)</text>
<text x="274.3" y="259.8" text-anchor="middle" font-size="10.8" fill="#111" style="stroke-width:0.1px;stroke:#111">(<tspan font-weight="bold" style="stroke-width:0">e</tspan>)</text>
<rect x="305.5" y="180.9" width="38.25" height="16.400000000000006" fill="#fff" stroke="#8c8c8c" stroke-width="0.7"/>
<polyline points="307.00,184.30 317.50,184.30" fill="none" stroke="#0a2cc8" stroke-width="1.45" stroke-linejoin="round"/>
<text transform="translate(318.30,186.00) scale(1,1.1)" text-anchor="start" font-size="4.6">MSAMT</text>
<polyline points="307.00,189.60 317.50,189.60" fill="none" stroke="#22b02c" stroke-width="1.35" stroke-linejoin="round" stroke-dasharray="4.3 4.4"/>
<text transform="translate(318.30,191.30) scale(1,1.1)" text-anchor="start" font-size="4.6">GL−SADER</text>
<polyline points="307.00,195.10 317.50,195.10" fill="none" stroke="#9a82de" stroke-width="1.3" stroke-linejoin="round" stroke-dasharray="3.2 1.1 1.2 1.1"/>
<text transform="translate(318.30,196.80) scale(1,1.1)" text-anchor="start" font-size="4.6">LSADE</text>
<polyline points="428.80,162.00 430.30,167.60 434.80,173.50 440.00,180.20 441.50,184.70 446.40,192.10 452.70,197.80 462.90,204.20 475.60,208.60 482.00,212.50 493.50,216.30 510.00,220.70 514.50,221.40 529.40,224.90 541.30,226.40" fill="none" stroke="#9a82de" stroke-width="1.25" stroke-linejoin="round" stroke-dasharray="3.2 1.1 1.2 1.1"/>
<polyline points="466.80,163.10 469.80,172.00 472.50,180.00 475.60,185.10 480.70,190.80 488.40,194.60 494.70,197.20 510.00,203.50 524.40,206.50 541.30,210.70" fill="none" stroke="#22b02c" stroke-width="1.5" stroke-linejoin="round" stroke-dasharray="4.3 4.4"/>
<polyline points="412.50,153.90 416.90,154.40 422.90,154.90 427.30,156.10 430.30,157.90 433.30,158.60 434.80,160.10 438.50,165.30 441.50,166.80 444.50,167.60 448.90,171.70 452.70,172.80 456.40,173.50 464.60,175.00 474.80,175.40 499.60,177.20 524.40,177.70 541.30,178.50" fill="none" stroke="#0a2cc8" stroke-width="1.6" stroke-linejoin="round"/>
<rect x="412.1" y="143.3" width="129.5" height="90.0" fill="none" stroke="#8c8c8c" stroke-width="0.9"/>
<line x1="429.15" y1="233.3" x2="429.15" y2="232.0" stroke="#8c8c8c" stroke-width="0.7"/>
<line x1="429.15" y1="143.3" x2="429.15" y2="144.60000000000002" stroke="#8c8c8c" stroke-width="0.7"/>
<text transform="translate(429.15,240.40) scale(1,1.1)" text-anchor="middle" font-size="5" fill="#3c3c3c" style="stroke-width:0.04px;stroke:#3c3c3c">100</text>
<line x1="447.90" y1="233.3" x2="447.90" y2="232.0" stroke="#8c8c8c" stroke-width="0.7"/>
<line x1="447.90" y1="143.3" x2="447.90" y2="144.60000000000002" stroke="#8c8c8c" stroke-width="0.7"/>
<text transform="translate(447.90,240.40) scale(1,1.1)" text-anchor="middle" font-size="5" fill="#3c3c3c" style="stroke-width:0.04px;stroke:#3c3c3c">150</text>
<line x1="466.64" y1="233.3" x2="466.64" y2="232.0" stroke="#8c8c8c" stroke-width="0.7"/>
<line x1="466.64" y1="143.3" x2="466.64" y2="144.60000000000002" stroke="#8c8c8c" stroke-width="0.7"/>
<text transform="translate(466.64,240.40) scale(1,1.1)" text-anchor="middle" font-size="5" fill="#3c3c3c" style="stroke-width:0.04px;stroke:#3c3c3c">200</text>
<line x1="485.38" y1="233.3" x2="485.38" y2="232.0" stroke="#8c8c8c" stroke-width="0.7"/>
<line x1="485.38" y1="143.3" x2="485.38" y2="144.60000000000002" stroke="#8c8c8c" stroke-width="0.7"/>
<text transform="translate(485.38,240.40) scale(1,1.1)" text-anchor="middle" font-size="5" fill="#3c3c3c" style="stroke-width:0.04px;stroke:#3c3c3c">250</text>
<line x1="504.12" y1="233.3" x2="504.12" y2="232.0" stroke="#8c8c8c" stroke-width="0.7"/>
<line x1="504.12" y1="143.3" x2="504.12" y2="144.60000000000002" stroke="#8c8c8c" stroke-width="0.7"/>
<text transform="translate(504.12,240.40) scale(1,1.1)" text-anchor="middle" font-size="5" fill="#3c3c3c" style="stroke-width:0.04px;stroke:#3c3c3c">300</text>
<line x1="522.86" y1="233.3" x2="522.86" y2="232.0" stroke="#8c8c8c" stroke-width="0.7"/>
<line x1="522.86" y1="143.3" x2="522.86" y2="144.60000000000002" stroke="#8c8c8c" stroke-width="0.7"/>
<text transform="translate(522.86,240.40) scale(1,1.1)" text-anchor="middle" font-size="5" fill="#3c3c3c" style="stroke-width:0.04px;stroke:#3c3c3c">350</text>
<line x1="541.60" y1="233.3" x2="541.60" y2="232.0" stroke="#8c8c8c" stroke-width="0.7"/>
<line x1="541.60" y1="143.3" x2="541.60" y2="144.60000000000002" stroke="#8c8c8c" stroke-width="0.7"/>
<text transform="translate(541.60,240.40) scale(1,1.1)" text-anchor="middle" font-size="5" fill="#3c3c3c" style="stroke-width:0.04px;stroke:#3c3c3c">400</text>
<line x1="412.1" y1="233.30" x2="413.40000000000003" y2="233.30" stroke="#8c8c8c" stroke-width="0.7"/>
<line x1="541.6" y1="233.30" x2="540.3000000000001" y2="233.30" stroke="#8c8c8c" stroke-width="0.7"/>
<text transform="translate(410.10,235.30) scale(1,1.1)" text-anchor="end" font-size="5" fill="#3c3c3c" style="stroke-width:0.04px;stroke:#3c3c3c">20</text>
<line x1="412.1" y1="220.44" x2="413.40000000000003" y2="220.44" stroke="#8c8c8c" stroke-width="0.7"/>
<line x1="541.6" y1="220.44" x2="540.3000000000001" y2="220.44" stroke="#8c8c8c" stroke-width="0.7"/>
<text transform="translate(410.10,222.44) scale(1,1.1)" text-anchor="end" font-size="5" fill="#3c3c3c" style="stroke-width:0.04px;stroke:#3c3c3c">20.5</text>
<line x1="412.1" y1="207.59" x2="413.40000000000003" y2="207.59" stroke="#8c8c8c" stroke-width="0.7"/>
<line x1="541.6" y1="207.59" x2="540.3000000000001" y2="207.59" stroke="#8c8c8c" stroke-width="0.7"/>
<text transform="translate(410.10,209.59) scale(1,1.1)" text-anchor="end" font-size="5" fill="#3c3c3c" style="stroke-width:0.04px;stroke:#3c3c3c">21</text>
<line x1="412.1" y1="194.73" x2="413.40000000000003" y2="194.73" stroke="#8c8c8c" stroke-width="0.7"/>
<line x1="541.6" y1="194.73" x2="540.3000000000001" y2="194.73" stroke="#8c8c8c" stroke-width="0.7"/>
<text transform="translate(410.10,196.73) scale(1,1.1)" text-anchor="end" font-size="5" fill="#3c3c3c" style="stroke-width:0.04px;stroke:#3c3c3c">21.5</text>
<line x1="412.1" y1="181.87" x2="413.40000000000003" y2="181.87" stroke="#8c8c8c" stroke-width="0.7"/>
<line x1="541.6" y1="181.87" x2="540.3000000000001" y2="181.87" stroke="#8c8c8c" stroke-width="0.7"/>
<text transform="translate(410.10,183.87) scale(1,1.1)" text-anchor="end" font-size="5" fill="#3c3c3c" style="stroke-width:0.04px;stroke:#3c3c3c">22</text>
<line x1="412.1" y1="169.01" x2="413.40000000000003" y2="169.01" stroke="#8c8c8c" stroke-width="0.7"/>
<line x1="541.6" y1="169.01" x2="540.3000000000001" y2="169.01" stroke="#8c8c8c" stroke-width="0.7"/>
<text transform="translate(410.10,171.01) scale(1,1.1)" text-anchor="end" font-size="5" fill="#3c3c3c" style="stroke-width:0.04px;stroke:#3c3c3c">22.5</text>
<line x1="412.1" y1="156.16" x2="413.40000000000003" y2="156.16" stroke="#8c8c8c" stroke-width="0.7"/>
<line x1="541.6" y1="156.16" x2="540.3000000000001" y2="156.16" stroke="#8c8c8c" stroke-width="0.7"/>
<text transform="translate(410.10,158.16) scale(1,1.1)" text-anchor="end" font-size="5" fill="#3c3c3c" style="stroke-width:0.04px;stroke:#3c3c3c">23</text>
<line x1="412.1" y1="143.30" x2="413.40000000000003" y2="143.30" stroke="#8c8c8c" stroke-width="0.7"/>
<line x1="541.6" y1="143.30" x2="540.3000000000001" y2="143.30" stroke="#8c8c8c" stroke-width="0.7"/>
<text transform="translate(410.10,145.30) scale(1,1.1)" text-anchor="end" font-size="5" fill="#3c3c3c" style="stroke-width:0.04px;stroke:#3c3c3c">23.5</text>
<text transform="translate(476.85,142.10) scale(1,1.1)" text-anchor="middle" font-size="5.9">F6−50D</text>
<text transform="translate(476.85,248.00) scale(1,1.1)" text-anchor="middle" font-size="6.5">No. of exact function evaluations</text>
<text transform="translate(399.90,187.80) rotate(-90) scale(1,1.1)" text-anchor="middle" font-size="6.5">Mean fitness value (log)</text>
<text x="469.2" y="259.8" text-anchor="middle" font-size="10.8" fill="#111" style="stroke-width:0.1px;stroke:#111">(<tspan font-weight="bold" style="stroke-width:0">f</tspan>)</text>
<rect x="498.4" y="146.7" width="40.39999999999998" height="17.600000000000023" fill="#fff" stroke="#8c8c8c" stroke-width="0.7"/>
<polyline points="499.90,149.40 510.40,149.40" fill="none" stroke="#0a2cc8" stroke-width="1.45" stroke-linejoin="round"/>
<text transform="translate(511.20,151.10) scale(1,1.1)" text-anchor="start" font-size="4.6">MSAMT</text>
<polyline points="499.90,154.90 510.40,154.90" fill="none" stroke="#22b02c" stroke-width="1.35" stroke-linejoin="round" stroke-dasharray="4.3 4.4"/>
<text transform="translate(511.20,156.60) scale(1,1.1)" text-anchor="start" font-size="4.6">GL−SADER</text>
<polyline points="499.90,160.60 510.40,160.60" fill="none" stroke="#9a82de" stroke-width="1.3" stroke-linejoin="round" stroke-dasharray="3.2 1.1 1.2 1.1"/>
<text transform="translate(511.20,162.30) scale(1,1.1)" text-anchor="start" font-size="4.6">LSADE</text>
<polyline points="47.30,295.50 49.80,303.80 51.10,310.80 55.50,314.00 57.40,313.90 62.60,314.80 69.50,318.20 76.50,320.00 78.20,326.10 81.70,326.90 97.30,326.90 98.70,331.80 101.20,334.90 124.80,335.50 134.70,336.10 135.30,340.50 143.30,341.30 145.20,343.60 151.00,343.60" fill="none" stroke="#9a82de" stroke-width="1.25" stroke-linejoin="round" stroke-dasharray="3.2 1.1 1.2 1.1"/>
<polyline points="80.00,326.90 90.40,326.90 93.80,328.70 95.60,332.10 99.10,335.60 104.90,338.60 113.60,339.80 117.90,342.90 119.80,344.50 132.20,345.40 143.30,346.00 145.80,347.50 151.00,349.60" fill="none" stroke="#22b02c" stroke-width="1.5" stroke-linejoin="round" stroke-dasharray="4.3 4.4"/>
<polyline points="30.90,279.00 33.30,280.30 35.80,286.60 37.10,289.20 40.30,291.10 42.80,294.30 44.70,298.10 47.30,298.70 48.50,303.80 49.20,311.50 50.40,313.90 56.50,316.00 59.10,322.60 60.80,325.20 66.10,325.70 70.40,326.90 72.10,328.70 77.30,329.50 80.80,330.90 83.40,331.30 85.50,334.70 88.60,341.70 92.10,342.60 93.80,349.50 99.90,350.40 101.20,350.40 102.40,352.20 104.30,355.70 117.90,356.00 119.20,360.30 121.00,364.90 142.70,364.90 144.00,366.50 151.00,366.50" fill="none" stroke="#0a2cc8" stroke-width="1.6" stroke-linejoin="round"/>
<rect x="30.7" y="277.5" width="120.39999999999999" height="90.30000000000001" fill="none" stroke="#8c8c8c" stroke-width="0.9"/>
<line x1="46.56" y1="367.8" x2="46.56" y2="366.5" stroke="#8c8c8c" stroke-width="0.7"/>
<line x1="46.56" y1="277.5" x2="46.56" y2="278.8" stroke="#8c8c8c" stroke-width="0.7"/>
<text transform="translate(46.56,374.90) scale(1,1.1)" text-anchor="middle" font-size="5" fill="#3c3c3c" style="stroke-width:0.04px;stroke:#3c3c3c">100</text>
<line x1="63.98" y1="367.8" x2="63.98" y2="366.5" stroke="#8c8c8c" stroke-width="0.7"/>
<line x1="63.98" y1="277.5" x2="63.98" y2="278.8" stroke="#8c8c8c" stroke-width="0.7"/>
<text transform="translate(63.98,374.90) scale(1,1.1)" text-anchor="middle" font-size="5" fill="#3c3c3c" style="stroke-width:0.04px;stroke:#3c3c3c">150</text>
<line x1="81.40" y1="367.8" x2="81.40" y2="366.5" stroke="#8c8c8c" stroke-width="0.7"/>
<line x1="81.40" y1="277.5" x2="81.40" y2="278.8" stroke="#8c8c8c" stroke-width="0.7"/>
<text transform="translate(81.40,374.90) scale(1,1.1)" text-anchor="middle" font-size="5" fill="#3c3c3c" style="stroke-width:0.04px;stroke:#3c3c3c">200</text>
<line x1="98.83" y1="367.8" x2="98.83" y2="366.5" stroke="#8c8c8c" stroke-width="0.7"/>
<line x1="98.83" y1="277.5" x2="98.83" y2="278.8" stroke="#8c8c8c" stroke-width="0.7"/>
<text transform="translate(98.83,374.90) scale(1,1.1)" text-anchor="middle" font-size="5" fill="#3c3c3c" style="stroke-width:0.04px;stroke:#3c3c3c">250</text>
<line x1="116.25" y1="367.8" x2="116.25" y2="366.5" stroke="#8c8c8c" stroke-width="0.7"/>
<line x1="116.25" y1="277.5" x2="116.25" y2="278.8" stroke="#8c8c8c" stroke-width="0.7"/>
<text transform="translate(116.25,374.90) scale(1,1.1)" text-anchor="middle" font-size="5" fill="#3c3c3c" style="stroke-width:0.04px;stroke:#3c3c3c">300</text>
<line x1="133.68" y1="367.8" x2="133.68" y2="366.5" stroke="#8c8c8c" stroke-width="0.7"/>
<line x1="133.68" y1="277.5" x2="133.68" y2="278.8" stroke="#8c8c8c" stroke-width="0.7"/>
<text transform="translate(133.68,374.90) scale(1,1.1)" text-anchor="middle" font-size="5" fill="#3c3c3c" style="stroke-width:0.04px;stroke:#3c3c3c">350</text>
<line x1="151.10" y1="367.8" x2="151.10" y2="366.5" stroke="#8c8c8c" stroke-width="0.7"/>
<line x1="151.10" y1="277.5" x2="151.10" y2="278.8" stroke="#8c8c8c" stroke-width="0.7"/>
<text transform="translate(151.10,374.90) scale(1,1.1)" text-anchor="middle" font-size="5" fill="#3c3c3c" style="stroke-width:0.04px;stroke:#3c3c3c">400</text>
<line x1="30.7" y1="277.50" x2="32.0" y2="277.50" stroke="#8c8c8c" stroke-width="0.7"/>
<line x1="151.1" y1="277.50" x2="149.79999999999998" y2="277.50" stroke="#8c8c8c" stroke-width="0.7"/>
<text transform="translate(28.70,279.50) scale(1,1.1)" text-anchor="end" font-size="5" fill="#3c3c3c" style="stroke-width:0.04px;stroke:#3c3c3c">−118.54</text>
<line x1="30.7" y1="292.55" x2="32.0" y2="292.55" stroke="#8c8c8c" stroke-width="0.7"/>
<line x1="151.1" y1="292.55" x2="149.79999999999998" y2="292.55" stroke="#8c8c8c" stroke-width="0.7"/>
<text transform="translate(28.70,294.55) scale(1,1.1)" text-anchor="end" font-size="5" fill="#3c3c3c" style="stroke-width:0.04px;stroke:#3c3c3c">−118.56</text>
<line x1="30.7" y1="307.60" x2="32.0" y2="307.60" stroke="#8c8c8c" stroke-width="0.7"/>
<line x1="151.1" y1="307.60" x2="149.79999999999998" y2="307.60" stroke="#8c8c8c" stroke-width="0.7"/>
<text transform="translate(28.70,309.60) scale(1,1.1)" text-anchor="end" font-size="5" fill="#3c3c3c" style="stroke-width:0.04px;stroke:#3c3c3c">−118.58</text>
<line x1="30.7" y1="322.65" x2="32.0" y2="322.65" stroke="#8c8c8c" stroke-width="0.7"/>
<line x1="151.1" y1="322.65" x2="149.79999999999998" y2="322.65" stroke="#8c8c8c" stroke-width="0.7"/>
<text transform="translate(28.70,324.65) scale(1,1.1)" text-anchor="end" font-size="5" fill="#3c3c3c" style="stroke-width:0.04px;stroke:#3c3c3c">−118.6</text>
<line x1="30.7" y1="337.70" x2="32.0" y2="337.70" stroke="#8c8c8c" stroke-width="0.7"/>
<line x1="151.1" y1="337.70" x2="149.79999999999998" y2="337.70" stroke="#8c8c8c" stroke-width="0.7"/>
<text transform="translate(28.70,339.70) scale(1,1.1)" text-anchor="end" font-size="5" fill="#3c3c3c" style="stroke-width:0.04px;stroke:#3c3c3c">−118.62</text>
<line x1="30.7" y1="352.75" x2="32.0" y2="352.75" stroke="#8c8c8c" stroke-width="0.7"/>
<line x1="151.1" y1="352.75" x2="149.79999999999998" y2="352.75" stroke="#8c8c8c" stroke-width="0.7"/>
<text transform="translate(28.70,354.75) scale(1,1.1)" text-anchor="end" font-size="5" fill="#3c3c3c" style="stroke-width:0.04px;stroke:#3c3c3c">−118.64</text>
<line x1="30.7" y1="367.80" x2="32.0" y2="367.80" stroke="#8c8c8c" stroke-width="0.7"/>
<line x1="151.1" y1="367.80" x2="149.79999999999998" y2="367.80" stroke="#8c8c8c" stroke-width="0.7"/>
<text transform="translate(28.70,369.80) scale(1,1.1)" text-anchor="end" font-size="5" fill="#3c3c3c" style="stroke-width:0.04px;stroke:#3c3c3c">−118.66</text>
<text transform="translate(90.90,276.30) scale(1,1.1)" text-anchor="middle" font-size="5.9">F7−50D</text>
<text transform="translate(90.90,382.40) scale(1,1.1)" text-anchor="middle" font-size="6.5">No. of exact function evaluations</text>
<text transform="translate(9.90,322.15) rotate(-90) scale(1,1.1)" text-anchor="middle" font-size="6.5">Mean fitness value</text>
<text x="79.4" y="397.6" text-anchor="middle" font-size="10.8" fill="#111" style="stroke-width:0.1px;stroke:#111">(<tspan font-weight="bold" style="stroke-width:0">g</tspan>)</text>
<rect x="108.6" y="280.7" width="39.70000000000002" height="17.30000000000001" fill="#fff" stroke="#8c8c8c" stroke-width="0.7"/>
<polyline points="110.10,283.90 120.60,283.90" fill="none" stroke="#0a2cc8" stroke-width="1.45" stroke-linejoin="round"/>
<text transform="translate(121.40,285.60) scale(1,1.1)" text-anchor="start" font-size="4.6">MSAMT</text>
<polyline points="110.10,289.40 120.60,289.40" fill="none" stroke="#22b02c" stroke-width="1.35" stroke-linejoin="round" stroke-dasharray="4.3 4.4"/>
<text transform="translate(121.40,291.10) scale(1,1.1)" text-anchor="start" font-size="4.6">GL−SADER</text>
<polyline points="110.10,294.80 120.60,294.80" fill="none" stroke="#9a82de" stroke-width="1.3" stroke-linejoin="round" stroke-dasharray="3.2 1.1 1.2 1.1"/>
<text transform="translate(121.40,296.50) scale(1,1.1)" text-anchor="start" font-size="4.6">LSADE</text>
<polyline points="236.60,294.00 239.60,299.60 241.10,312.20 241.20,324.20 243.10,327.00 254.00,334.00 262.70,336.20 275.80,337.70 291.10,341.60 306.40,345.30 321.60,347.50 344.60,351.00 346.00,351.20" fill="none" stroke="#9a82de" stroke-width="1.25" stroke-linejoin="round" stroke-dasharray="3.2 1.1 1.2 1.1"/>
<polyline points="272.80,292.10 273.00,324.10 274.60,327.90 279.00,329.80 284.50,331.40 306.40,333.60 344.60,335.10 346.00,335.10" fill="none" stroke="#22b02c" stroke-width="1.5" stroke-linejoin="round" stroke-dasharray="4.3 4.4"/>
<polyline points="220.40,286.10 220.70,298.10" fill="none" stroke="#0a2cc8" stroke-width="1.3" stroke-linejoin="round"/>
<polyline points="220.70,298.10 226.90,298.80 235.90,299.30 244.80,300.30 259.70,301.50 270.10,303.30 277.60,303.60 285.00,304.00 299.10,304.50 318.20,306.10 346.20,307.00" fill="none" stroke="#0a2cc8" stroke-width="1.6" stroke-linejoin="round"/>
<rect x="219.9" y="277.5" width="126.20000000000002" height="90.30000000000001" fill="none" stroke="#8c8c8c" stroke-width="0.9"/>
<line x1="236.52" y1="367.8" x2="236.52" y2="366.5" stroke="#8c8c8c" stroke-width="0.7"/>
<line x1="236.52" y1="277.5" x2="236.52" y2="278.8" stroke="#8c8c8c" stroke-width="0.7"/>
<text transform="translate(236.52,374.90) scale(1,1.1)" text-anchor="middle" font-size="5" fill="#3c3c3c" style="stroke-width:0.04px;stroke:#3c3c3c">100</text>
<line x1="254.78" y1="367.8" x2="254.78" y2="366.5" stroke="#8c8c8c" stroke-width="0.7"/>
<line x1="254.78" y1="277.5" x2="254.78" y2="278.8" stroke="#8c8c8c" stroke-width="0.7"/>
<text transform="translate(254.78,374.90) scale(1,1.1)" text-anchor="middle" font-size="5" fill="#3c3c3c" style="stroke-width:0.04px;stroke:#3c3c3c">150</text>
<line x1="273.05" y1="367.8" x2="273.05" y2="366.5" stroke="#8c8c8c" stroke-width="0.7"/>
<line x1="273.05" y1="277.5" x2="273.05" y2="278.8" stroke="#8c8c8c" stroke-width="0.7"/>
<text transform="translate(273.05,374.90) scale(1,1.1)" text-anchor="middle" font-size="5" fill="#3c3c3c" style="stroke-width:0.04px;stroke:#3c3c3c">200</text>
<line x1="291.31" y1="367.8" x2="291.31" y2="366.5" stroke="#8c8c8c" stroke-width="0.7"/>
<line x1="291.31" y1="277.5" x2="291.31" y2="278.8" stroke="#8c8c8c" stroke-width="0.7"/>
<text transform="translate(291.31,374.90) scale(1,1.1)" text-anchor="middle" font-size="5" fill="#3c3c3c" style="stroke-width:0.04px;stroke:#3c3c3c">250</text>
<line x1="309.57" y1="367.8" x2="309.57" y2="366.5" stroke="#8c8c8c" stroke-width="0.7"/>
<line x1="309.57" y1="277.5" x2="309.57" y2="278.8" stroke="#8c8c8c" stroke-width="0.7"/>
<text transform="translate(309.57,374.90) scale(1,1.1)" text-anchor="middle" font-size="5" fill="#3c3c3c" style="stroke-width:0.04px;stroke:#3c3c3c">300</text>
<line x1="327.84" y1="367.8" x2="327.84" y2="366.5" stroke="#8c8c8c" stroke-width="0.7"/>
<line x1="327.84" y1="277.5" x2="327.84" y2="278.8" stroke="#8c8c8c" stroke-width="0.7"/>
<text transform="translate(327.84,374.90) scale(1,1.1)" text-anchor="middle" font-size="5" fill="#3c3c3c" style="stroke-width:0.04px;stroke:#3c3c3c">350</text>
<line x1="346.10" y1="367.8" x2="346.10" y2="366.5" stroke="#8c8c8c" stroke-width="0.7"/>
<line x1="346.10" y1="277.5" x2="346.10" y2="278.8" stroke="#8c8c8c" stroke-width="0.7"/>
<text transform="translate(346.10,374.90) scale(1,1.1)" text-anchor="middle" font-size="5" fill="#3c3c3c" style="stroke-width:0.04px;stroke:#3c3c3c">400</text>
<line x1="219.9" y1="367.80" x2="221.20000000000002" y2="367.80" stroke="#8c8c8c" stroke-width="0.7"/>
<line x1="346.1" y1="367.80" x2="344.8" y2="367.80" stroke="#8c8c8c" stroke-width="0.7"/>
<text transform="translate(217.90,369.80) scale(1,1.1)" text-anchor="end" font-size="5" fill="#3c3c3c" style="stroke-width:0.04px;stroke:#3c3c3c">−200</text>
<line x1="219.9" y1="349.74" x2="221.20000000000002" y2="349.74" stroke="#8c8c8c" stroke-width="0.7"/>
<line x1="346.1" y1="349.74" x2="344.8" y2="349.74" stroke="#8c8c8c" stroke-width="0.7"/>
<text transform="translate(217.90,351.74) scale(1,1.1)" text-anchor="end" font-size="5" fill="#3c3c3c" style="stroke-width:0.04px;stroke:#3c3c3c">0</text>
<line x1="219.9" y1="331.68" x2="221.20000000000002" y2="331.68" stroke="#8c8c8c" stroke-width="0.7"/>
<line x1="346.1" y1="331.68" x2="344.8" y2="331.68" stroke="#8c8c8c" stroke-width="0.7"/>
<text transform="translate(217.90,333.68) scale(1,1.1)" text-anchor="end" font-size="5" fill="#3c3c3c" style="stroke-width:0.04px;stroke:#3c3c3c">200</text>
<line x1="219.9" y1="313.62" x2="221.20000000000002" y2="313.62" stroke="#8c8c8c" stroke-width="0.7"/>
<line x1="346.1" y1="313.62" x2="344.8" y2="313.62" stroke="#8c8c8c" stroke-width="0.7"/>
<text transform="translate(217.90,315.62) scale(1,1.1)" text-anchor="end" font-size="5" fill="#3c3c3c" style="stroke-width:0.04px;stroke:#3c3c3c">400</text>
<line x1="219.9" y1="295.56" x2="221.20000000000002" y2="295.56" stroke="#8c8c8c" stroke-width="0.7"/>
<line x1="346.1" y1="295.56" x2="344.8" y2="295.56" stroke="#8c8c8c" stroke-width="0.7"/>
<text transform="translate(217.90,297.56) scale(1,1.1)" text-anchor="end" font-size="5" fill="#3c3c3c" style="stroke-width:0.04px;stroke:#3c3c3c">600</text>
<line x1="219.9" y1="277.50" x2="221.20000000000002" y2="277.50" stroke="#8c8c8c" stroke-width="0.7"/>
<line x1="346.1" y1="277.50" x2="344.8" y2="277.50" stroke="#8c8c8c" stroke-width="0.7"/>
<text transform="translate(217.90,279.50) scale(1,1.1)" text-anchor="end" font-size="5" fill="#3c3c3c" style="stroke-width:0.04px;stroke:#3c3c3c">800</text>
<text transform="translate(283.00,276.30) scale(1,1.1)" text-anchor="middle" font-size="5.9">F8−50D</text>
<text transform="translate(283.00,382.40) scale(1,1.1)" text-anchor="middle" font-size="6.5">No. of exact function evaluations</text>
<text transform="translate(204.40,322.15) rotate(-90) scale(1,1.1)" text-anchor="middle" font-size="6.5">Mean fitness value</text>
<text x="274.3" y="394.0" text-anchor="middle" font-size="10.8" fill="#111" style="stroke-width:0.1px;stroke:#111">(<tspan font-weight="bold" style="stroke-width:0">h</tspan>)</text>
<rect x="304.8" y="280.3" width="38.19999999999999" height="18.19999999999999" fill="#fff" stroke="#8c8c8c" stroke-width="0.7"/>
<polyline points="306.30,284.10 316.80,284.10" fill="none" stroke="#0a2cc8" stroke-width="1.45" stroke-linejoin="round"/>
<text transform="translate(317.60,285.80) scale(1,1.1)" text-anchor="start" font-size="4.6">MSAMT</text>
<polyline points="306.30,289.60 316.80,289.60" fill="none" stroke="#22b02c" stroke-width="1.35" stroke-linejoin="round" stroke-dasharray="4.3 4.4"/>
<text transform="translate(317.60,291.30) scale(1,1.1)" text-anchor="start" font-size="4.6">GL−SADER</text>
<polyline points="306.30,295.20 316.80,295.20" fill="none" stroke="#9a82de" stroke-width="1.3" stroke-linejoin="round" stroke-dasharray="3.2 1.1 1.2 1.1"/>
<text transform="translate(317.60,296.90) scale(1,1.1)" text-anchor="start" font-size="4.6">LSADE</text>
<polyline points="430.00,292.90 431.80,303.30 433.30,308.50 434.80,311.50 434.80,340.70 438.10,343.60 451.20,347.30 468.60,351.00 488.30,354.90 505.70,359.30 521.00,361.50 540.60,364.70" fill="none" stroke="#9a82de" stroke-width="1.25" stroke-linejoin="round" stroke-dasharray="3.2 1.1 1.2 1.1"/>
<polyline points="467.30,291.10 467.50,341.80 470.80,344.00 483.90,348.40 501.40,351.60 518.80,353.20 540.60,353.80" fill="none" stroke="#22b02c" stroke-width="1.5" stroke-linejoin="round" stroke-dasharray="4.3 4.4"/>
<polyline points="413.90,282.10 414.70,303.60" fill="none" stroke="#0a2cc8" stroke-width="1.3" stroke-linejoin="round"/>
<polyline points="414.70,303.60 416.90,304.00 427.30,304.50 449.70,304.80 475.00,306.30 499.10,306.60 513.60,307.30 541.30,308.40" fill="none" stroke="#0a2cc8" stroke-width="1.6" stroke-linejoin="round"/>
<rect x="413.5" y="277.5" width="128.0" height="90.30000000000001" fill="none" stroke="#8c8c8c" stroke-width="0.9"/>
<line x1="430.36" y1="367.8" x2="430.36" y2="366.5" stroke="#8c8c8c" stroke-width="0.7"/>
<line x1="430.36" y1="277.5" x2="430.36" y2="278.8" stroke="#8c8c8c" stroke-width="0.7"/>
<text transform="translate(430.36,374.90) scale(1,1.1)" text-anchor="middle" font-size="5" fill="#3c3c3c" style="stroke-width:0.04px;stroke:#3c3c3c">100</text>
<line x1="448.88" y1="367.8" x2="448.88" y2="366.5" stroke="#8c8c8c" stroke-width="0.7"/>
<line x1="448.88" y1="277.5" x2="448.88" y2="278.8" stroke="#8c8c8c" stroke-width="0.7"/>
<text transform="translate(448.88,374.90) scale(1,1.1)" text-anchor="middle" font-size="5" fill="#3c3c3c" style="stroke-width:0.04px;stroke:#3c3c3c">150</text>
<line x1="467.40" y1="367.8" x2="467.40" y2="366.5" stroke="#8c8c8c" stroke-width="0.7"/>
<line x1="467.40" y1="277.5" x2="467.40" y2="278.8" stroke="#8c8c8c" stroke-width="0.7"/>
<text transform="translate(467.40,374.90) scale(1,1.1)" text-anchor="middle" font-size="5" fill="#3c3c3c" style="stroke-width:0.04px;stroke:#3c3c3c">200</text>
<line x1="485.93" y1="367.8" x2="485.93" y2="366.5" stroke="#8c8c8c" stroke-width="0.7"/>
<line x1="485.93" y1="277.5" x2="485.93" y2="278.8" stroke="#8c8c8c" stroke-width="0.7"/>
<text transform="translate(485.93,374.90) scale(1,1.1)" text-anchor="middle" font-size="5" fill="#3c3c3c" style="stroke-width:0.04px;stroke:#3c3c3c">250</text>
<line x1="504.45" y1="367.8" x2="504.45" y2="366.5" stroke="#8c8c8c" stroke-width="0.7"/>
<line x1="504.45" y1="277.5" x2="504.45" y2="278.8" stroke="#8c8c8c" stroke-width="0.7"/>
<text transform="translate(504.45,374.90) scale(1,1.1)" text-anchor="middle" font-size="5" fill="#3c3c3c" style="stroke-width:0.04px;stroke:#3c3c3c">300</text>
<line x1="522.98" y1="367.8" x2="522.98" y2="366.5" stroke="#8c8c8c" stroke-width="0.7"/>
<line x1="522.98" y1="277.5" x2="522.98" y2="278.8" stroke="#8c8c8c" stroke-width="0.7"/>
<text transform="translate(522.98,374.90) scale(1,1.1)" text-anchor="middle" font-size="5" fill="#3c3c3c" style="stroke-width:0.04px;stroke:#3c3c3c">350</text>
<line x1="541.50" y1="367.8" x2="541.50" y2="366.5" stroke="#8c8c8c" stroke-width="0.7"/>
<line x1="541.50" y1="277.5" x2="541.50" y2="278.8" stroke="#8c8c8c" stroke-width="0.7"/>
<text transform="translate(541.50,374.90) scale(1,1.1)" text-anchor="middle" font-size="5" fill="#3c3c3c" style="stroke-width:0.04px;stroke:#3c3c3c">400</text>
<line x1="413.5" y1="367.80" x2="414.8" y2="367.80" stroke="#8c8c8c" stroke-width="0.7"/>
<line x1="541.5" y1="367.80" x2="540.2" y2="367.80" stroke="#8c8c8c" stroke-width="0.7"/>
<text transform="translate(411.50,369.80) scale(1,1.1)" text-anchor="end" font-size="5" fill="#3c3c3c" style="stroke-width:0.04px;stroke:#3c3c3c">0</text>
<line x1="413.5" y1="337.70" x2="414.8" y2="337.70" stroke="#8c8c8c" stroke-width="0.7"/>
<line x1="541.5" y1="337.70" x2="540.2" y2="337.70" stroke="#8c8c8c" stroke-width="0.7"/>
<text transform="translate(411.50,339.70) scale(1,1.1)" text-anchor="end" font-size="5" fill="#3c3c3c" style="stroke-width:0.04px;stroke:#3c3c3c">500</text>
<line x1="413.5" y1="307.60" x2="414.8" y2="307.60" stroke="#8c8c8c" stroke-width="0.7"/>
<line x1="541.5" y1="307.60" x2="540.2" y2="307.60" stroke="#8c8c8c" stroke-width="0.7"/>
<text transform="translate(411.50,309.60) scale(1,1.1)" text-anchor="end" font-size="5" fill="#3c3c3c" style="stroke-width:0.04px;stroke:#3c3c3c">1000</text>
<line x1="413.5" y1="277.50" x2="414.8" y2="277.50" stroke="#8c8c8c" stroke-width="0.7"/>
<line x1="541.5" y1="277.50" x2="540.2" y2="277.50" stroke="#8c8c8c" stroke-width="0.7"/>
<text transform="translate(411.50,279.50) scale(1,1.1)" text-anchor="end" font-size="5" fill="#3c3c3c" style="stroke-width:0.04px;stroke:#3c3c3c">1500</text>
<text transform="translate(477.50,276.30) scale(1,1.1)" text-anchor="middle" font-size="5.9">F9−50D</text>
<text transform="translate(477.50,382.40) scale(1,1.1)" text-anchor="middle" font-size="6.5">No. of exact function evaluations</text>
<text transform="translate(399.40,322.15) rotate(-90) scale(1,1.1)" text-anchor="middle" font-size="6.5">Mean fitness value</text>
<text x="469.4" y="394.0" text-anchor="middle" font-size="10.8" fill="#111" style="stroke-width:0.1px;stroke:#111">(<tspan font-weight="bold" style="stroke-width:0">i</tspan>)</text>
<rect x="500.3" y="280.4" width="37.80000000000001" height="18.100000000000023" fill="#fff" stroke="#8c8c8c" stroke-width="0.7"/>
<polyline points="501.80,284.40 512.30,284.40" fill="none" stroke="#0a2cc8" stroke-width="1.45" stroke-linejoin="round"/>
<text transform="translate(513.10,286.10) scale(1,1.1)" text-anchor="start" font-size="4.6">MSAMT</text>
<polyline points="501.80,289.70 512.30,289.70" fill="none" stroke="#22b02c" stroke-width="1.35" stroke-linejoin="round" stroke-dasharray="4.3 4.4"/>
<text transform="translate(513.10,291.40) scale(1,1.1)" text-anchor="start" font-size="4.6">GL−SADER</text>
<polyline points="501.80,295.00 512.30,295.00" fill="none" stroke="#9a82de" stroke-width="1.3" stroke-linejoin="round" stroke-dasharray="3.2 1.1 1.2 1.1"/>
<text transform="translate(513.10,296.70) scale(1,1.1)" text-anchor="start" font-size="4.6">LSADE</text>
</g></svg></body></html>
